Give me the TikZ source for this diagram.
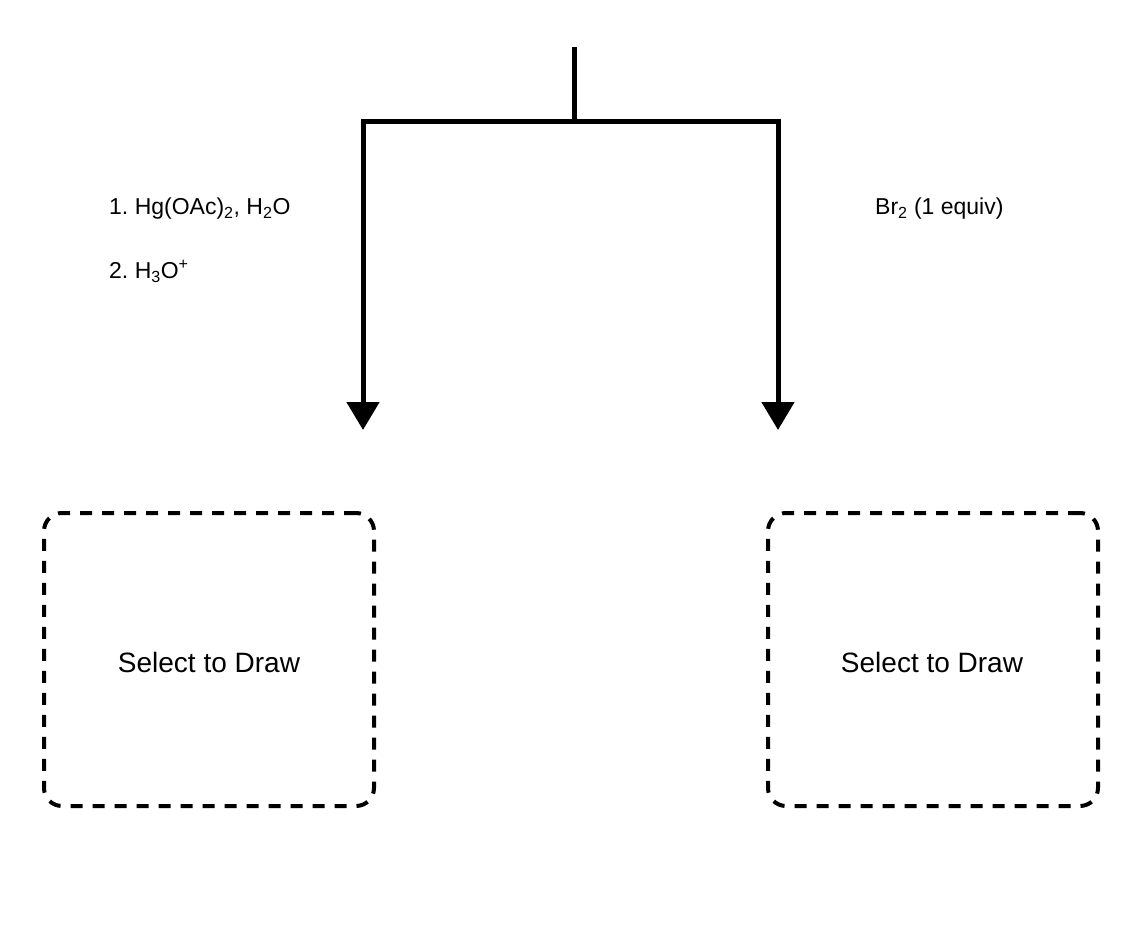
\documentclass[tikz,border=0pt]{standalone}
\usepackage{fontspec}
\setmainfont{Liberation Sans}
\usetikzlibrary{arrows.meta}
\frenchspacing
\begin{document}
\begin{tikzpicture}[x=1pt,y=-1pt,
  conn/.style={line width=5pt, miter limit=10},
  drawbox/.style={draw, line width=4pt, dash pattern=on 12pt off 10pt, rounded corners=18pt,
    minimum width=330pt, minimum height=293pt, inner sep=0pt},
  boxtext/.style={inner sep=0pt, font=\fontsize{28}{32}\selectfont},
  reag/.style={anchor=west, inner sep=0pt, font=\fontsize{23}{27}\selectfont}]
\useasboundingbox (0,0) rectangle (1136,936);
\coordinate (top) at (574,47);
\coordinate (junc) at (574,122);
\coordinate (lend) at (363,430);
\coordinate (rend) at (778,430);
\draw[conn] (top) -- (junc);
\draw[conn, {Triangle[width=32pt,length=28pt]}-{Triangle[width=32pt,length=28pt]}] (lend) |- (junc) -| (rend);
\node[reag] (r1) at (109,208.5) {1. Hg(OAc)\textsubscript{2}, H\textsubscript{2}O};
\node[reag] (r2) at (109,271.5) {2. H\textsubscript{3}O\textsuperscript{+}};
\node[reag] (r3) at (875,208.5) {Br\textsubscript{2} (1 equiv)};
\node[drawbox] (b1) at (209,659.5) {};
\node[drawbox] (b2) at (933,659.5) {};
\node[boxtext] (t1) at (209,662) {Select to Draw};
\node[boxtext] (t2) at (932,662) {Select to Draw};
\end{tikzpicture}
\end{document}
